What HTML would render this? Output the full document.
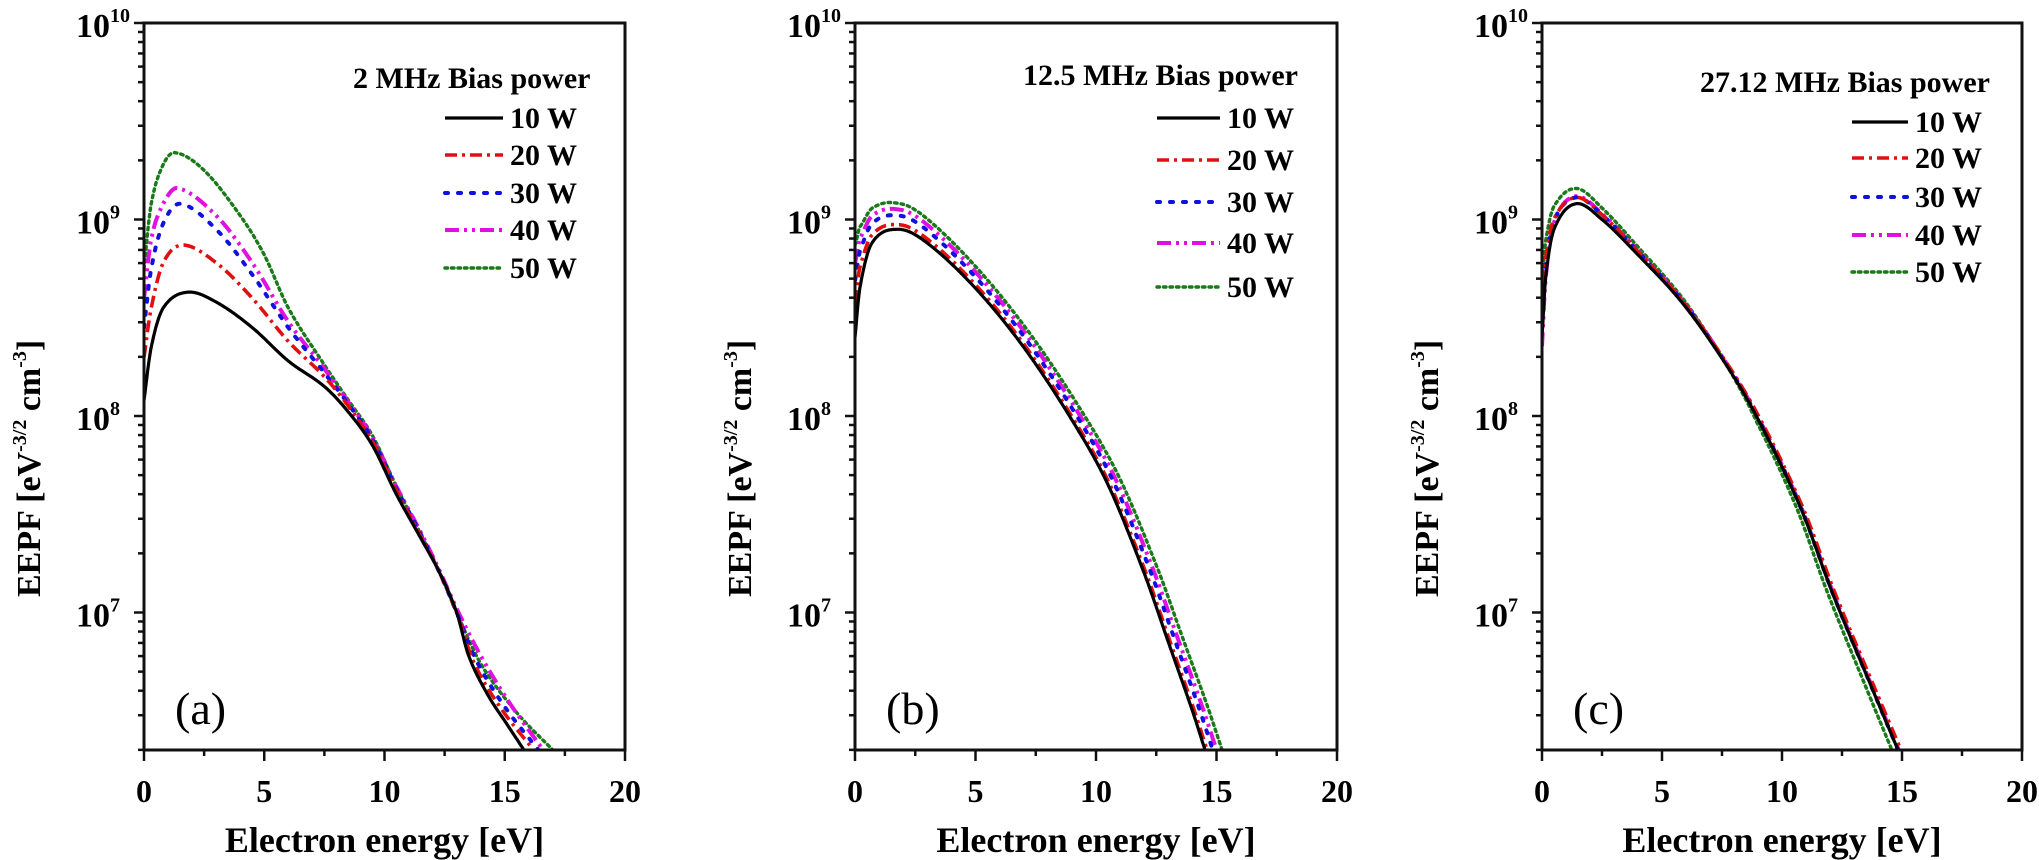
<!DOCTYPE html>
<html><head><meta charset="utf-8">
<style>
html,body{margin:0;padding:0;background:#fff;}
svg{display:block;font-family:"Liberation Serif",serif;}
</style></head>
<body>
<svg id="s" width="2039" height="860" viewBox="0 0 2039 860" xmlns="http://www.w3.org/2000/svg"></svg>
<script>
const S=document.getElementById('s');
let out='';
const TOP=23,BOT=750,DEC=196.5;
const panels=[
 {L:144,R:625,lab:'(a)',title:'2 MHz Bias power',tx:353,ty:88,ey:[118,155,193,230,268],lx1:445,lx2:503,tx2:510},
 {L:855,R:1337,lab:'(b)',title:'12.5 MHz Bias power',tx:1023,ty:85,ey:[118,160,202,243,287],lx1:1157,lx2:1220,tx2:1227},
 {L:1542,R:2022,lab:'(c)',title:'27.12 MHz Bias power',tx:1700,ty:92,ey:[122,158,197,235,272],lx1:1852,lx2:1908,tx2:1915}
];
const styles=[
 {c:'#000',w:3.2,d:''},
 {c:'#e01010',w:3.6,d:'12,5,3,5'},
 {c:'#1010e0',w:4,d:'3,10'},
 {c:'#e010e0',w:4,d:'14,5,3,5,3,5'},
 {c:'#1a7a1a',w:3.4,d:'2.5,4'}
];
const names=['10 W','20 W','30 W','40 W','50 W'];
function interp(p,x){
 const n=p.length;
 if(x<=p[0][0])return p[0][1];
 if(x>=p[n-1][0]){const a=p[n-2],b=p[n-1];return b[1]+(x-b[0])*(b[1]-a[1])/(b[0]-a[0]);}
 let i=0;while(p[i+1][0]<x)i++;
 const x0=p[i][0],x1=p[i+1][0],y0=p[i][1],y1=p[i+1][1],h=x1-x0;
 const sl=k=>{if(k<=0)return (p[1][1]-p[0][1])/(p[1][0]-p[0][0]);if(k>=n-1)return (p[n-1][1]-p[n-2][1])/(p[n-1][0]-p[n-2][0]);return (p[k+1][1]-p[k-1][1])/(p[k+1][0]-p[k-1][0]);};
 const m0=sl(i),m1=sl(i+1),t=(x-x0)/h;
 const t2=t*t,t3=t2*t;
 return (2*t3-3*t2+1)*y0+(t3-2*t2+t)*h*m0+(-2*t3+3*t2)*y1+(t3-t2)*h*m1;
}
const A=[
 [[0,8.08],[0.3,8.35],[0.8,8.55],[1.8,8.63],[3,8.58],[4.5,8.45],[6,8.28],[7.5,8.15],[8.5,8.02],[9.5,7.85],[10.5,7.6],[11.5,7.38],[12.3,7.2],[13,7.0],[13.5,6.78],[14.3,6.58],[15.1,6.43],[15.8,6.3]],
 [[0,8.3],[0.3,8.55],[0.8,8.78],[1.6,8.87],[3,8.78],[4.5,8.6],[6,8.38],[7.5,8.2],[8.5,8.05],[9.5,7.87],[10.5,7.62],[11.5,7.39],[12.3,7.2],[13,7.0],[13.7,6.75],[14.8,6.52],[16.2,6.3]],
 [[0,8.45],[0.3,8.75],[0.8,8.98],[1.5,9.08],[3,8.95],[4.5,8.72],[6,8.45],[7.5,8.22],[8.5,8.06],[9.5,7.88],[10.5,7.63],[11.5,7.4],[12.3,7.2],[13,7.0],[13.8,6.76],[15,6.52],[16.4,6.3]],
 [[0,8.6],[0.3,8.9],[0.8,9.08],[1.4,9.16],[3,9.02],[4.5,8.78],[6,8.48],[7.5,8.24],[8.5,8.07],[9.5,7.89],[10.5,7.64],[11.5,7.41],[12.3,7.21],[13,7.02],[14,6.78],[15.2,6.54],[16.6,6.3]],
 [[0,8.75],[0.3,9.08],[0.8,9.28],[1.3,9.34],[2.5,9.25],[4,9.02],[5,8.82],[6,8.55],[7.5,8.26],[8.5,8.08],[9.5,7.9],[10.5,7.64],[11.5,7.4],[12.3,7.2],[13,7.0],[14,6.74],[15.5,6.49],[17,6.3]]
];
const Bb=[[0,8.4],[0.2,8.65],[0.7,8.88],[1.8,8.95],[3,8.88],[5,8.65],[7,8.35],[9,7.98],[10.5,7.65],[12,7.2],[13,6.85],[14,6.5],[14.5,6.31]];
const Cb=[[0,8.4],[0.15,8.7],[0.5,8.95],[1.4,9.08],[2.5,9.0],[4,8.82],[5.75,8.59],[7.3,8.33],[8.8,8.03],[10.75,7.54],[12.1,7.1],[13.8,6.6],[14.8,6.31]];
const bT=[0,0.005,0.02,0.03,0.045],bD=[0,0.03,0.09,0.13,0.17],b0=[0,0.15,0.2,0.25,0.3];
const cT=[0,0.008,0.0,0.002,-0.018],cD=[0,0.045,0.045,0.055,0.11],c0=[0,0.1,0.05,-0.1,0.15];
function fn(p,k,E){
 if(p===0)return interp(A[k],E);
 if(p===1)return interp(Bb,E/(1+bT[k]))+bD[k]*Math.exp(-E/7)+b0[k]*Math.exp(-E/0.3);
 const sh=E<9?cT[k]*Math.max(0,(E-6)/3):cT[k];
 return interp(Cb,E/(1+sh))+cD[k]*Math.exp(-E/4)+c0[k]*Math.exp(-E/0.25);
}
const yv=l=>TOP+(10-l)*DEC;
panels.forEach((P,pi)=>{
 const W=P.R-P.L, xe=E=>P.L+E/20*W;
 out+=`<clipPath id="c${pi}"><rect x="${P.L}" y="${TOP}" width="${W}" height="${BOT-TOP}"/></clipPath>`;
 for(let k=4;k>=0;k--){
  let d='';
  for(let E=0;E<=20;E+=0.04){
   const l=fn(pi,k,E);
   d+=(d?'L':'M')+xe(E).toFixed(1)+','+yv(l).toFixed(1);
   if(l<6.25)break;
  }
  const s=styles[k];
  out+=`<path d="${d}" fill="none" stroke="${s.c}" stroke-width="${s.w}" ${s.d?`stroke-dasharray="${s.d}"`:''} stroke-linecap="${k==2||k==4?'round':'butt'}" clip-path="url(#c${pi})"/>`;
 }
 out+=`<rect x="${P.L}" y="${TOP}" width="${W}" height="${BOT-TOP}" fill="none" stroke="#111" stroke-width="3"/>`;
 for(let dcd=6;dcd<=9;dcd++){
  for(let m=1;m<=9;m++){
   const l=dcd+Math.log10(m); if(l<6.3)continue;
   const y=yv(l);
   const len=m===1?10:6;
   out+=`<line x1="${P.L-len}" x2="${P.L}" y1="${y}" y2="${y}" stroke="#111" stroke-width="2.5"/>`;
  }
 }
 out+=`<line x1="${P.L-10}" x2="${P.L}" y1="${TOP}" y2="${TOP}" stroke="#111" stroke-width="2.5"/>`;
 const off=P.L-144;
 [10,9,8,7].forEach(e=>{
  const y=yv(e);
  out+=`<text x="${76+off}" y="${y+14}" font-size="34" font-weight="bold">10<tspan dy="-15" font-size="20">${e}</tspan></text>`;
 });
 for(let E=0;E<=20;E+=2.5){
  const x=xe(E),len=(E%5===0)?11:6;
  out+=`<line x1="${x}" x2="${x}" y1="${BOT}" y2="${BOT+len}" stroke="#111" stroke-width="2.5"/>`;
  if(E%5===0)out+=`<text x="${x}" y="802" font-size="32" font-weight="bold" text-anchor="middle">${E}</text>`;
 }
 out+=`<text x="${(P.L+P.R)/2}" y="852" font-size="36" font-weight="bold" text-anchor="middle">Electron energy [eV]</text>`;
 out+=`<text transform="translate(${40+off},597) rotate(-90)" font-size="34" font-weight="bold">EEPF [eV<tspan dy="-14" font-size="20">-3/2</tspan><tspan dy="14"> cm</tspan><tspan dy="-14" font-size="20">-3</tspan><tspan dy="14">]</tspan></text>`;
 out+=`<text x="${P.L+31}" y="724" font-size="46">${P.lab}</text>`;
 out+=`<text x="${P.tx}" y="${P.ty}" font-size="30" font-weight="bold">${P.title}</text>`;
 P.ey.forEach((y,k)=>{
  const s=styles[k];
  out+=`<line x1="${P.lx1}" x2="${P.lx2}" y1="${y}" y2="${y}" stroke="${s.c}" stroke-width="${s.w}" ${s.d?`stroke-dasharray="${s.d}"`:''} stroke-linecap="${k==2||k==4?'round':'butt'}"/>`;
  out+=`<text x="${P.tx2}" y="${y+10}" font-size="30" font-weight="bold">${names[k]}</text>`;
 });
});
S.innerHTML=out;
</script>
</body></html>
